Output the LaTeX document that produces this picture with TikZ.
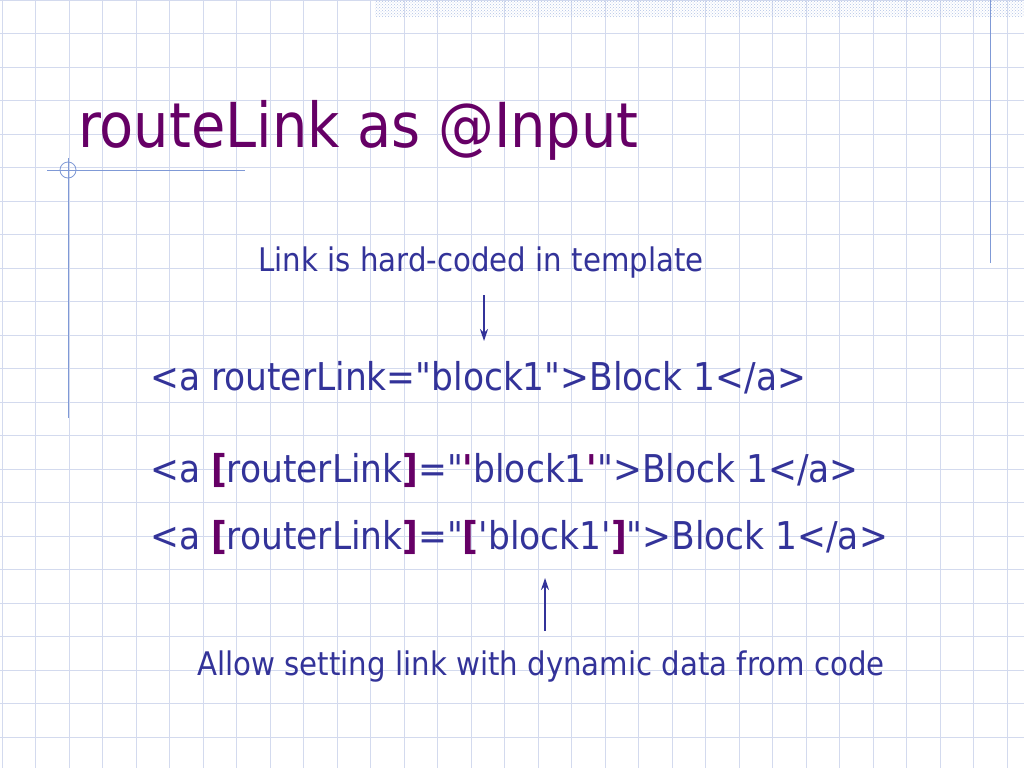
\documentclass[tikz,border=0pt]{standalone}
\usepackage{fontspec}
\setmainfont{DejaVu Sans Condensed}[Ligatures=NoCommon,Mapping=]
\usetikzlibrary{patterns,arrows.meta}
\definecolor{ttl}{HTML}{660066}
\definecolor{txt}{HTML}{333399}
\definecolor{grd}{HTML}{D3DAEE}
\definecolor{deco}{HTML}{7F99D6}
\tikzset{body/.style={anchor=west,text=txt,font=\fontsize{38.3}{42}\selectfont,inner sep=0},
lbl/.style={text=txt,font=\fontsize{32.5}{36}\selectfont,inner sep=0},
arr/.style={draw=txt,line width=1.2pt,-{Stealth[length=12pt,width=8pt]}}}
\newcommand{\pb}[1]{\textcolor{ttl}{\textbf{#1}}}
\newcommand{\dq}{\char34{}}
\newcommand{\sq}{\char39{}}
\begin{document}
\begin{tikzpicture}[x=1pt,y=-1pt]
\useasboundingbox (0,0) rectangle (1024,768);
\fill[white] (0,0) rectangle (1024,768);
\foreach \i in {0,...,31} \draw[grd,line width=0.6pt] (\i*33.5+2,0) -- (\i*33.5+2,768);
\foreach \j in {0,...,23} \draw[grd,line width=0.6pt] (0,\j*33.5+0) -- (1024,\j*33.5+0);
\fill[pattern=crosshatch dots,pattern color=deco!60] (375,0) rectangle (1024,17);
\draw[deco,line width=1pt] (990,0) -- (990,263);
\draw[deco,line width=1pt] (47,170) -- (245,170);
\draw[deco,line width=1pt] (68,158) -- (68,418);
\draw[deco,line width=0.8pt] (68,170) circle (8);
\node[anchor=base west,text=ttl,font=\fontsize{62}{66}\selectfont,inner sep=0] (title) at (78,147) {routeLink as @Input};
\node[lbl] (top) at (481,263) {Link is hard-coded in template};
\node[body] (l1) at (150,378) {<a routerLink=\dq block1\dq>Block 1</a>};
\node[body] (l2) at (150,470) {<a \pb{[}routerLink\pb{]}=\dq\pb{\sq}block1\pb{\sq}\dq>Block 1</a>};
\node[body] (l3) at (150,537) {<a \pb{[}routerLink\pb{]}=\dq\pb{[}\sq block1\sq\pb{]}\dq>Block 1</a>};
\node[lbl] (bot) at (541,667) {Allow setting link with dynamic data from code};
\coordinate (a1) at (484,295); \coordinate (a2) at (484,341);
\coordinate (b1) at (545,631); \coordinate (b2) at (545,578);
\draw[arr] (a1) -- (a2);
\draw[arr] (b1) -- (b2);
\end{tikzpicture}
\end{document}
